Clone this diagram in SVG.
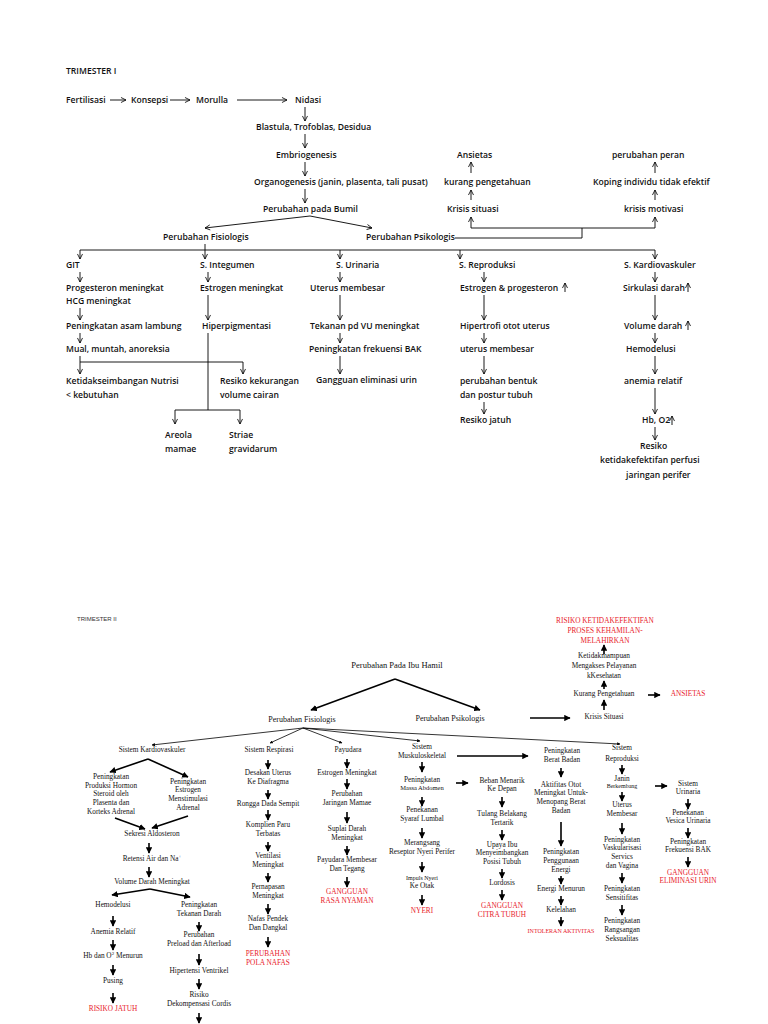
<svg xmlns="http://www.w3.org/2000/svg" width="768" height="1024" viewBox="0 0 768 1024">
<defs>
<marker id="a" viewBox="0 0 10 10" refX="9" refY="5" markerWidth="7" markerHeight="7" orient="auto"><path d="M1,1 L9,5 L1,9" fill="none" stroke="#000" stroke-width="1.3"/></marker>
<marker id="b" viewBox="0 0 10 10" refX="9" refY="5" markerWidth="4" markerHeight="4" orient="auto"><path d="M0,0 L10,5 L0,10 z" fill="#000"/></marker>
</defs>
<style>
.t{font-family:"Open Sans","Liberation Sans",sans-serif;font-size:8.6px;font-weight:600;fill:#111}
.s{font-family:"Liberation Serif",serif;font-size:7.3px;fill:#111;text-anchor:middle}
.r{fill:#e8202a}
.l{stroke:#000;stroke-width:0.9;fill:none;marker-end:url(#a)}
.p{stroke:#000;stroke-width:0.9;fill:none}
.d{stroke:#000;stroke-width:1.6;fill:none;marker-end:url(#b)}
.n{stroke:#000;stroke-width:0.8;fill:none;marker-end:url(#b)}
</style>
<rect width="768" height="1024" fill="#fff"/>
<g id="top-text" class="t">
<text x="66" y="74">TRIMESTER I</text>
<text x="66" y="103">Fertilisasi</text><text x="131" y="103">Konsepsi</text><text x="196" y="103">Morulla</text><text x="295" y="103">Nidasi</text>
<text x="256" y="130">Blastula, Trofoblas, Desidua</text>
<text x="276" y="158">Embriogenesis</text>
<text x="254" y="185">Organogenesis (janin, plasenta, tali pusat)</text>
<text x="263" y="212">Perubahan pada Bumil</text>
<text x="163" y="240">Perubahan Fisiologis</text><text x="366" y="240">Perubahan Psikologis</text>
<text x="457" y="158">Ansietas</text><text x="444" y="185">kurang pengetahuan</text><text x="447" y="212">Krisis situasi</text>
<text x="612" y="158">perubahan peran</text><text x="593" y="185">Koping individu tidak efektif</text><text x="624" y="212">krisis motivasi</text>
<text x="66" y="268">GIT</text><text x="200" y="268">S. Integumen</text><text x="336" y="268">S. Urinaria</text><text x="459" y="268">S. Reproduksi</text><text x="624" y="268">S. Kardiovaskuler</text>
<text x="66" y="291">Progesteron meningkat</text><text x="66" y="304">HCG meningkat</text>
<text x="66" y="329">Peningkatan asam lambung</text><text x="66" y="352">Mual, muntah, anoreksia</text>
<text x="66" y="384">Ketidakseimbangan Nutrisi</text><text x="66" y="398">&lt; kebutuhan</text>
<text x="220" y="384">Resiko kekurangan</text><text x="220" y="398">volume cairan</text>
<text x="200" y="291">Estrogen meningkat</text><text x="202" y="329">Hiperpigmentasi</text>
<text x="165" y="438">Areola</text><text x="165" y="452">mamae</text><text x="229" y="438">Striae</text><text x="229" y="452">gravidarum</text>
<text x="310" y="291">Uterus membesar</text><text x="310" y="329">Tekanan pd VU meningkat</text><text x="309" y="352">Peningkatan frekuensi BAK</text><text x="316" y="383">Gangguan eliminasi urin</text>
<text x="460" y="291">Estrogen &amp; progesteron</text><text x="460" y="329">Hipertrofi otot uterus</text><text x="460" y="352">uterus membesar</text>
<text x="460" y="384">perubahan bentuk</text><text x="460" y="398">dan postur tubuh</text><text x="460" y="423">Resiko jatuh</text>
<text x="623" y="291">Sirkulasi darah</text><text x="624" y="329">Volume darah</text><text x="626" y="352">Hemodelusi</text><text x="624" y="384">anemia relatif</text>
<text x="642" y="423">Hb, O2</text><text x="640" y="449">Resiko</text><text x="600" y="463">ketidakefektifan perfusi</text><text x="626" y="478">jaringan perifer</text>
</g>
<g id="top-connectors">
<line class="l" x1="110" y1="100" x2="126" y2="100"/><line class="l" x1="170" y1="100" x2="190" y2="100"/><line class="l" x1="237" y1="100" x2="287" y2="100"/>
<line class="l" x1="305" y1="107" x2="305" y2="121"/><line class="l" x1="305" y1="134" x2="305" y2="148"/><line class="l" x1="305" y1="162" x2="305" y2="176"/><line class="l" x1="305" y1="189" x2="305" y2="203"/>
<line class="l" x1="310" y1="216" x2="205" y2="228"/><line class="l" x1="310" y1="216" x2="372" y2="228"/>
<line class="p" x1="205" y1="244" x2="205" y2="250"/><line class="p" x1="80" y1="250" x2="655" y2="250"/>
<line class="l" x1="80" y1="250" x2="80" y2="259"/><line class="l" x1="205" y1="250" x2="205" y2="259"/><line class="l" x1="340" y1="250" x2="340" y2="259"/><line class="l" x1="460" y1="250" x2="460" y2="259"/><line class="l" x1="655" y1="250" x2="655" y2="259"/>
<line class="l" x1="80" y1="272" x2="80" y2="282"/><line class="l" x1="80" y1="308" x2="80" y2="320"/><line class="l" x1="80" y1="333" x2="80" y2="343"/>
<line class="p" x1="80" y1="356" x2="80" y2="362"/><line class="p" x1="80" y1="362" x2="243" y2="362"/><line class="l" x1="80" y1="362" x2="80" y2="374"/><line class="l" x1="243" y1="362" x2="243" y2="374"/>
<line class="l" x1="208" y1="272" x2="208" y2="282"/><line class="l" x1="208" y1="295" x2="208" y2="320"/>
<line class="p" x1="208" y1="333" x2="208" y2="410"/><line class="p" x1="175" y1="410" x2="240" y2="410"/><line class="l" x1="175" y1="410" x2="175" y2="424"/><line class="l" x1="240" y1="410" x2="240" y2="424"/>
<line class="l" x1="340" y1="272" x2="340" y2="282"/><line class="l" x1="340" y1="295" x2="340" y2="320"/><line class="l" x1="340" y1="333" x2="340" y2="343"/><line class="l" x1="340" y1="356" x2="340" y2="374"/>
<line class="l" x1="484" y1="272" x2="484" y2="282"/><line class="l" x1="484" y1="295" x2="484" y2="320"/><line class="l" x1="484" y1="333" x2="484" y2="343"/><line class="l" x1="484" y1="356" x2="484" y2="374"/><line class="l" x1="484" y1="402" x2="484" y2="414"/>
<line class="l" x1="565" y1="292" x2="565" y2="283"/>
<line class="l" x1="655" y1="272" x2="655" y2="282"/><line class="l" x1="655" y1="295" x2="655" y2="320"/><line class="l" x1="655" y1="333" x2="655" y2="343"/><line class="l" x1="655" y1="356" x2="655" y2="374"/><line class="l" x1="655" y1="388" x2="655" y2="414"/><line class="l" x1="655" y1="427" x2="655" y2="440"/>
<line class="l" x1="688" y1="292" x2="688" y2="283"/><line class="l" x1="688" y1="330" x2="688" y2="321"/><line class="l" x1="672" y1="425" x2="672" y2="416"/>
<line class="p" x1="455" y1="238" x2="582" y2="238"/><line class="p" x1="582" y1="238" x2="582" y2="228"/><line class="p" x1="471" y1="228" x2="655" y2="228"/>
<line class="l" x1="471" y1="228" x2="471" y2="217"/><line class="l" x1="655" y1="228" x2="655" y2="217"/>
<line class="l" x1="471" y1="200" x2="471" y2="190"/><line class="l" x1="471" y1="173" x2="471" y2="162"/>
<line class="l" x1="655" y1="200" x2="655" y2="190"/><line class="l" x1="655" y1="173" x2="655" y2="162"/>
</g>
<g id="bottom-text">
<text x="77" y="621" style="font-family:'Liberation Sans',sans-serif;font-size:6px;fill:#333">TRIMESTER II</text>
<g class="s">
<text x="397" y="668" style="font-size:8.5px">Perubahan Pada Ibu Hamil</text>
<text x="302" y="722" style="font-size:8px">Perubahan Fisiologis</text><text x="450" y="721" style="font-size:8px">Perubahan Psikologis</text>
<text x="604" y="719">Krisis Situasi</text>
<text x="605" y="623" class="r">RISIKO KETIDAKEFEKTIFAN</text><text x="605" y="633" class="r">PROSES KEHAMILAN-</text><text x="605" y="643" class="r">MELAHIRKAN</text>
<text x="604" y="658">Ketidakmampuan</text><text x="604" y="668">Mengakses Pelayanan</text><text x="604" y="678">kKesehatan</text>
<text x="604" y="696">Kurang Pengetahuan</text><text x="688" y="696" class="r">ANSIETAS</text>
<text x="152" y="752">Sistem Kardiovaskuler</text><text x="269" y="752">Sistem Respirasi</text><text x="348" y="752">Payudara</text>
<text x="422" y="749">Sistem</text><text x="422" y="758">Muskuloskeletal</text>
<text x="562" y="753">Peningkatan</text><text x="562" y="762">Berat Badan</text>
<text x="622" y="750">Sistem</text><text x="622" y="761">Reproduksi</text>
<text x="111" y="779">Peningkatan</text><text x="111" y="788">Produksi Hormon</text><text x="111" y="796">Steroid oleh</text><text x="111" y="805">Plasenta dan</text><text x="111" y="814">Korteks Adrenal</text>
<text x="188" y="784">Peningkatan</text><text x="188" y="792">Estrogen</text><text x="188" y="801">Menstimulasi</text><text x="188" y="810">Adrenal</text>
<text x="152" y="836">Sekresi Aldosteron</text><text x="152" y="861">Retensi Air dan Na<tspan dy="-3" font-size="5">+</tspan></text><text x="152" y="884">Volume Darah Meningkat</text>
<text x="113" y="907">Hemodelusi</text><text x="113" y="934">Anemia Relatif</text><text x="113" y="958">Hb dan O<tspan dy="-3" font-size="5">2</tspan><tspan dy="3"> Menurun</tspan></text><text x="113" y="983">Pusing</text><text x="113" y="1011" class="r">RISIKO JATUH</text>
<text x="199" y="907">Peningkatan</text><text x="199" y="916">Tekanan Darah</text><text x="199" y="937">Perubahan</text><text x="199" y="946">Preload dan Afterload</text><text x="199" y="973">Hipertensi Ventrikel</text><text x="199" y="997">Risiko</text><text x="199" y="1006">Dekompensasi Cordis</text>
<text x="268" y="775">Desakan Uterus</text><text x="268" y="784">Ke Diafragma</text><text x="268" y="806">Rongga Dada Sempit</text><text x="268" y="827">Komplien Paru</text><text x="268" y="836">Terbatas</text>
<text x="268" y="858">Ventilasi</text><text x="268" y="867">Meningkat</text><text x="268" y="889">Pernapasan</text><text x="268" y="898">Meningkat</text><text x="268" y="921">Nafas Pendek</text><text x="268" y="930">Dan Dangkal</text>
<text x="268" y="956" class="r">PERUBAHAN</text><text x="268" y="965" class="r">POLA NAFAS</text>
<text x="347" y="775">Estrogen Meningkat</text><text x="347" y="796">Perubahan</text><text x="347" y="805">Jaringan Mamae</text><text x="347" y="831">Suplai Darah</text><text x="347" y="840">Meningkat</text>
<text x="347" y="862">Payudara Membesar</text><text x="347" y="871">Dan Tegang</text><text x="347" y="894" class="r">GANGGUAN</text><text x="347" y="903" class="r">RASA NYAMAN</text>
<text x="422" y="782">Peningkatan</text><text x="422" y="790" style="font-size:6.5px">Massa Abdomen</text><text x="422" y="812">Penekanan</text><text x="422" y="821">Syaraf Lumbal</text>
<text x="422" y="845">Merangsang</text><text x="422" y="854">Reseptor Nyeri Perifer</text><text x="422" y="880" style="font-size:6px">Impuls Nyeri</text><text x="422" y="888">Ke Otak</text><text x="422" y="913" class="r">NYERI</text>
<text x="502" y="783">Beban Menarik</text><text x="502" y="791">Ke Depan</text><text x="502" y="816">Tulang Belakang</text><text x="502" y="825">Tertarik</text>
<text x="502" y="847">Upaya Ibu</text><text x="502" y="855">Menyeimbangkan</text><text x="502" y="864">Posisi Tubuh</text><text x="502" y="885">Lordosis</text>
<text x="502" y="908" class="r">GANGGUAN</text><text x="502" y="917" class="r">CITRA TUBUH</text>
<text x="561" y="787">Aktifitas Otot</text><text x="561" y="795">Meningkat Untuk-</text><text x="561" y="804">Menopang Berat</text><text x="561" y="813">Badan</text>
<text x="561" y="854">Peningkatan</text><text x="561" y="863">Penggunaan</text><text x="561" y="872">Energi</text><text x="561" y="891">Energi Menurun</text><text x="561" y="912">Kelelahan</text>
<text x="561" y="933" class="r" style="font-size:6px">INTOLERAN AKTIVITAS</text>
<text x="622" y="781">Janin</text><text x="622" y="788" style="font-size:6px">Berkembang</text>
<text x="622" y="807">Uterus</text><text x="622" y="816">Membesar</text><text x="622" y="842">Peningkatan</text><text x="622" y="850">Vaskularisasi</text><text x="622" y="859">Servics</text><text x="622" y="868">dan Vagina</text>
<text x="622" y="891">Peningkatan</text><text x="622" y="900">Sensitifitas</text><text x="622" y="923">Peningkatan</text><text x="622" y="932">Rangsangan</text><text x="622" y="941">Seksualitas</text>
<text x="688" y="786">Sistem</text><text x="688" y="794">Urinaria</text><text x="688" y="815">Penekanan</text><text x="688" y="823">Vesica Urinaria</text>
<text x="688" y="844">Peningkatan</text><text x="688" y="852">Frekuensi BAK</text><text x="688" y="875" class="r">GANGGUAN</text><text x="688" y="883" class="r">ELIMINASI URIN</text>
</g>
</g>
<g id="bottom-connectors">
<line class="d" x1="395" y1="679" x2="311" y2="710"/><line class="d" x1="395" y1="679" x2="480" y2="710"/>
<line class="d" x1="530" y1="718" x2="570" y2="718"/><line class="d" x1="648" y1="695" x2="660" y2="695"/>
<line class="d" x1="604" y1="710" x2="604" y2="700"/><line class="d" x1="604" y1="689" x2="604" y2="681"/><line class="d" x1="604" y1="654" x2="604" y2="645"/>
<line class="n" x1="303" y1="728" x2="152" y2="745"/><line class="n" x1="303" y1="728" x2="270" y2="743"/><line class="n" x1="303" y1="728" x2="342" y2="743"/><line class="n" x1="303" y1="728" x2="420" y2="741"/><line class="n" x1="303" y1="728" x2="620" y2="744"/>
<line class="d" x1="457" y1="756" x2="528" y2="756"/>
<line class="d" x1="148" y1="759" x2="110" y2="772"/><line class="d" x1="148" y1="759" x2="188" y2="777"/>
<line class="d" x1="115" y1="818" x2="145" y2="829"/><line class="d" x1="188" y1="816" x2="152" y2="828"/>
<line class="d" x1="149" y1="843" x2="149" y2="853"/><line class="d" x1="149" y1="867" x2="149" y2="877"/>
<line class="d" x1="150" y1="889" x2="112" y2="895"/><line class="d" x1="150" y1="889" x2="190" y2="897"/>
<line class="d" x1="113" y1="916" x2="113" y2="926"/><line class="d" x1="113" y1="940" x2="113" y2="950"/><line class="d" x1="113" y1="965" x2="113" y2="975"/><line class="d" x1="113" y1="993" x2="113" y2="1003"/>
<line class="d" x1="199" y1="922" x2="199" y2="931"/><line class="d" x1="199" y1="954" x2="199" y2="965"/><line class="d" x1="199" y1="979" x2="199" y2="989"/><line class="d" x1="199" y1="1013" x2="199" y2="1023"/>
<line class="d" x1="268" y1="760" x2="268" y2="769"/><line class="d" x1="268" y1="790" x2="268" y2="799"/><line class="d" x1="268" y1="810" x2="268" y2="820"/><line class="d" x1="268" y1="842" x2="268" y2="851"/><line class="d" x1="268" y1="873" x2="268" y2="882"/><line class="d" x1="268" y1="904" x2="268" y2="914"/><line class="d" x1="268" y1="937" x2="268" y2="947"/>
<line class="d" x1="347" y1="759" x2="347" y2="768"/><line class="d" x1="347" y1="779" x2="347" y2="789"/><line class="d" x1="347" y1="812" x2="347" y2="823"/><line class="d" x1="347" y1="846" x2="347" y2="855"/><line class="d" x1="347" y1="877" x2="347" y2="887"/>
<line class="d" x1="422" y1="762" x2="422" y2="772"/><line class="d" x1="456" y1="783" x2="468" y2="783"/><line class="d" x1="422" y1="797" x2="422" y2="806"/><line class="d" x1="422" y1="828" x2="422" y2="838"/><line class="d" x1="422" y1="862" x2="422" y2="872"/><line class="d" x1="422" y1="895" x2="422" y2="905"/>
<line class="d" x1="502" y1="797" x2="502" y2="807"/><line class="d" x1="502" y1="830" x2="502" y2="840"/><line class="d" x1="502" y1="869" x2="502" y2="878"/><line class="d" x1="502" y1="890" x2="502" y2="900"/>
<line class="d" x1="561" y1="768" x2="561" y2="777"/><line class="d" x1="561" y1="822" x2="561" y2="846"/><line class="d" x1="561" y1="876" x2="561" y2="884"/><line class="d" x1="561" y1="896" x2="561" y2="905"/><line class="d" x1="561" y1="917" x2="561" y2="926"/>
<line class="d" x1="622" y1="765" x2="622" y2="774"/><line class="d" x1="655" y1="786" x2="667" y2="786"/><line class="d" x1="622" y1="792" x2="622" y2="801"/><line class="d" x1="622" y1="823" x2="622" y2="834"/><line class="d" x1="622" y1="873" x2="622" y2="883"/><line class="d" x1="622" y1="905" x2="622" y2="915"/>
<line class="d" x1="688" y1="799" x2="688" y2="809"/><line class="d" x1="688" y1="828" x2="688" y2="838"/><line class="d" x1="688" y1="857" x2="688" y2="867"/>
</g>
</svg>
